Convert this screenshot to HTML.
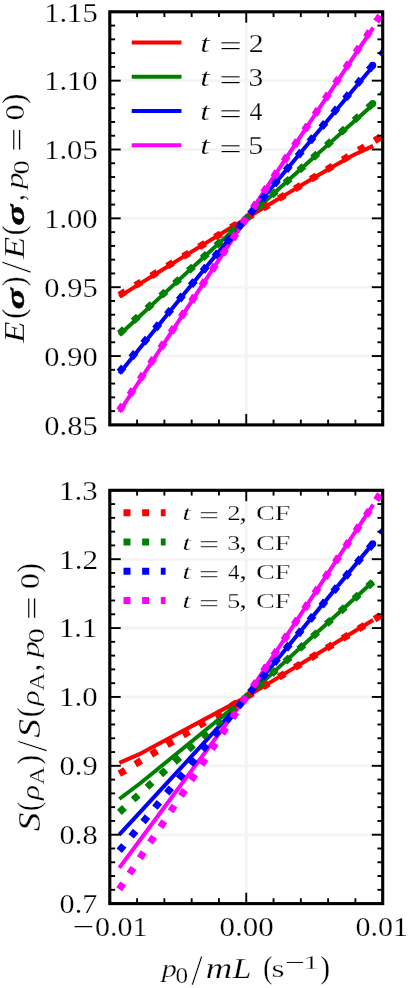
<!DOCTYPE html>
<html lang="en"><head><meta charset="utf-8"><title>Plot</title>
<style>html,body{margin:0;padding:0;background:#fff}svg{display:block}text{font-family:"Liberation Serif","DejaVu Serif",serif;fill:#000}</style></head><body>
<svg width="411" height="988" viewBox="0 0 411 988">
<rect width="411" height="988" fill="#fff"/>
<defs>
<clipPath id="c1"><rect x="109.8" y="11.8" width="272.9" height="413.1"/></clipPath>
<clipPath id="c2"><rect x="109.8" y="490.3" width="272.9" height="413.3"/></clipPath>
</defs>
<line x1="109.8" y1="424.9" x2="382.7" y2="424.9" stroke="#f4f4f4" stroke-width="3" />
<line x1="109.8" y1="356.05" x2="382.7" y2="356.05" stroke="#f4f4f4" stroke-width="3" />
<line x1="109.8" y1="287.2" x2="382.7" y2="287.2" stroke="#f4f4f4" stroke-width="3" />
<line x1="109.8" y1="218.35" x2="382.7" y2="218.35" stroke="#f4f4f4" stroke-width="3" />
<line x1="109.8" y1="149.5" x2="382.7" y2="149.5" stroke="#f4f4f4" stroke-width="3" />
<line x1="109.8" y1="80.65" x2="382.7" y2="80.65" stroke="#f4f4f4" stroke-width="3" />
<line x1="109.8" y1="11.8" x2="382.7" y2="11.8" stroke="#f4f4f4" stroke-width="3" />
<line x1="109.8" y1="11.8" x2="109.8" y2="424.9" stroke="#f4f4f4" stroke-width="3" />
<line x1="246.25" y1="11.8" x2="246.25" y2="424.9" stroke="#f4f4f4" stroke-width="3" />
<line x1="382.7" y1="11.8" x2="382.7" y2="424.9" stroke="#f4f4f4" stroke-width="3" />
<g clip-path="url(#c1)" fill="none">
<path d="M119.3 296.65 L140.46 283.4 L161.61 270.23 L182.77 257.14 L203.93 244.13 L225.09 231.2 L246.25 218.35 L267.41 205.58 L288.57 192.89 L309.73 180.27 L330.89 167.79 L352.04 155.69 L373.2 145.91" stroke="#ff0000" stroke-width="4"/>
<path d="M119.3 335.08 L140.46 315.43 L161.61 295.86 L182.77 276.36 L203.93 256.94 L225.09 237.61 L246.25 218.35 L267.41 199.17 L288.57 180.07 L309.73 161.06 L330.89 142.12 L352.04 123.26 L373.2 104.48" stroke="#008000" stroke-width="4"/>
<path d="M119.3 373.52 L140.46 347.46 L161.61 321.48 L182.77 295.58 L203.93 269.76 L225.09 244.01 L246.25 218.35 L267.41 192.77 L288.57 167.26 L309.73 141.84 L330.89 116.49 L352.04 91.23 L373.2 66.04" stroke="#0000ff" stroke-width="4"/>
<path d="M119.3 411.95 L140.46 379.49 L161.61 347.1 L182.77 314.79 L203.93 282.57 L225.09 250.42 L246.25 218.35 L267.41 186.36 L288.57 154.45 L309.73 122.62 L330.89 90.87 L352.04 59.2 L373.2 27.61" stroke="#ff00ff" stroke-width="4"/>
<path d="M119.3 295.22 L388.16 132.43" stroke="#ff0000" stroke-width="7" stroke-dasharray="7 11.65"/>
<path d="M119.3 333.65 L388.16 89.46" stroke="#008000" stroke-width="7" stroke-dasharray="7 11.65"/>
<path d="M119.3 372.09 L388.16 46.5" stroke="#0000ff" stroke-width="7" stroke-dasharray="7 11.65"/>
<path d="M119.3 410.52 L388.16 3.54" stroke="#ff00ff" stroke-width="7" stroke-dasharray="7 11.65"/>
<circle cx="372.7" cy="103.5" r="3.5" fill="#008000"/>
<circle cx="372.7" cy="65.22" r="3.5" fill="#0000ff"/>
</g>
<line x1="109.8" y1="424.9" x2="120.7" y2="424.9" stroke="#000" stroke-width="1.9" />
<line x1="382.7" y1="424.9" x2="371.8" y2="424.9" stroke="#000" stroke-width="1.9" />
<line x1="109.8" y1="411.13" x2="115.1" y2="411.13" stroke="#000" stroke-width="1.9" />
<line x1="382.7" y1="411.13" x2="377.4" y2="411.13" stroke="#000" stroke-width="1.9" />
<line x1="109.8" y1="397.36" x2="115.1" y2="397.36" stroke="#000" stroke-width="1.9" />
<line x1="382.7" y1="397.36" x2="377.4" y2="397.36" stroke="#000" stroke-width="1.9" />
<line x1="109.8" y1="383.59" x2="115.1" y2="383.59" stroke="#000" stroke-width="1.9" />
<line x1="382.7" y1="383.59" x2="377.4" y2="383.59" stroke="#000" stroke-width="1.9" />
<line x1="109.8" y1="369.82" x2="115.1" y2="369.82" stroke="#000" stroke-width="1.9" />
<line x1="382.7" y1="369.82" x2="377.4" y2="369.82" stroke="#000" stroke-width="1.9" />
<line x1="109.8" y1="356.05" x2="120.7" y2="356.05" stroke="#000" stroke-width="1.9" />
<line x1="382.7" y1="356.05" x2="371.8" y2="356.05" stroke="#000" stroke-width="1.9" />
<line x1="109.8" y1="342.28" x2="115.1" y2="342.28" stroke="#000" stroke-width="1.9" />
<line x1="382.7" y1="342.28" x2="377.4" y2="342.28" stroke="#000" stroke-width="1.9" />
<line x1="109.8" y1="328.51" x2="115.1" y2="328.51" stroke="#000" stroke-width="1.9" />
<line x1="382.7" y1="328.51" x2="377.4" y2="328.51" stroke="#000" stroke-width="1.9" />
<line x1="109.8" y1="314.74" x2="115.1" y2="314.74" stroke="#000" stroke-width="1.9" />
<line x1="382.7" y1="314.74" x2="377.4" y2="314.74" stroke="#000" stroke-width="1.9" />
<line x1="109.8" y1="300.97" x2="115.1" y2="300.97" stroke="#000" stroke-width="1.9" />
<line x1="382.7" y1="300.97" x2="377.4" y2="300.97" stroke="#000" stroke-width="1.9" />
<line x1="109.8" y1="287.2" x2="120.7" y2="287.2" stroke="#000" stroke-width="1.9" />
<line x1="382.7" y1="287.2" x2="371.8" y2="287.2" stroke="#000" stroke-width="1.9" />
<line x1="109.8" y1="273.43" x2="115.1" y2="273.43" stroke="#000" stroke-width="1.9" />
<line x1="382.7" y1="273.43" x2="377.4" y2="273.43" stroke="#000" stroke-width="1.9" />
<line x1="109.8" y1="259.66" x2="115.1" y2="259.66" stroke="#000" stroke-width="1.9" />
<line x1="382.7" y1="259.66" x2="377.4" y2="259.66" stroke="#000" stroke-width="1.9" />
<line x1="109.8" y1="245.89" x2="115.1" y2="245.89" stroke="#000" stroke-width="1.9" />
<line x1="382.7" y1="245.89" x2="377.4" y2="245.89" stroke="#000" stroke-width="1.9" />
<line x1="109.8" y1="232.12" x2="115.1" y2="232.12" stroke="#000" stroke-width="1.9" />
<line x1="382.7" y1="232.12" x2="377.4" y2="232.12" stroke="#000" stroke-width="1.9" />
<line x1="109.8" y1="218.35" x2="120.7" y2="218.35" stroke="#000" stroke-width="1.9" />
<line x1="382.7" y1="218.35" x2="371.8" y2="218.35" stroke="#000" stroke-width="1.9" />
<line x1="109.8" y1="204.58" x2="115.1" y2="204.58" stroke="#000" stroke-width="1.9" />
<line x1="382.7" y1="204.58" x2="377.4" y2="204.58" stroke="#000" stroke-width="1.9" />
<line x1="109.8" y1="190.81" x2="115.1" y2="190.81" stroke="#000" stroke-width="1.9" />
<line x1="382.7" y1="190.81" x2="377.4" y2="190.81" stroke="#000" stroke-width="1.9" />
<line x1="109.8" y1="177.04" x2="115.1" y2="177.04" stroke="#000" stroke-width="1.9" />
<line x1="382.7" y1="177.04" x2="377.4" y2="177.04" stroke="#000" stroke-width="1.9" />
<line x1="109.8" y1="163.27" x2="115.1" y2="163.27" stroke="#000" stroke-width="1.9" />
<line x1="382.7" y1="163.27" x2="377.4" y2="163.27" stroke="#000" stroke-width="1.9" />
<line x1="109.8" y1="149.5" x2="120.7" y2="149.5" stroke="#000" stroke-width="1.9" />
<line x1="382.7" y1="149.5" x2="371.8" y2="149.5" stroke="#000" stroke-width="1.9" />
<line x1="109.8" y1="135.73" x2="115.1" y2="135.73" stroke="#000" stroke-width="1.9" />
<line x1="382.7" y1="135.73" x2="377.4" y2="135.73" stroke="#000" stroke-width="1.9" />
<line x1="109.8" y1="121.96" x2="115.1" y2="121.96" stroke="#000" stroke-width="1.9" />
<line x1="382.7" y1="121.96" x2="377.4" y2="121.96" stroke="#000" stroke-width="1.9" />
<line x1="109.8" y1="108.19" x2="115.1" y2="108.19" stroke="#000" stroke-width="1.9" />
<line x1="382.7" y1="108.19" x2="377.4" y2="108.19" stroke="#000" stroke-width="1.9" />
<line x1="109.8" y1="94.42" x2="115.1" y2="94.42" stroke="#000" stroke-width="1.9" />
<line x1="382.7" y1="94.42" x2="377.4" y2="94.42" stroke="#000" stroke-width="1.9" />
<line x1="109.8" y1="80.65" x2="120.7" y2="80.65" stroke="#000" stroke-width="1.9" />
<line x1="382.7" y1="80.65" x2="371.8" y2="80.65" stroke="#000" stroke-width="1.9" />
<line x1="109.8" y1="66.88" x2="115.1" y2="66.88" stroke="#000" stroke-width="1.9" />
<line x1="382.7" y1="66.88" x2="377.4" y2="66.88" stroke="#000" stroke-width="1.9" />
<line x1="109.8" y1="53.11" x2="115.1" y2="53.11" stroke="#000" stroke-width="1.9" />
<line x1="382.7" y1="53.11" x2="377.4" y2="53.11" stroke="#000" stroke-width="1.9" />
<line x1="109.8" y1="39.34" x2="115.1" y2="39.34" stroke="#000" stroke-width="1.9" />
<line x1="382.7" y1="39.34" x2="377.4" y2="39.34" stroke="#000" stroke-width="1.9" />
<line x1="109.8" y1="25.57" x2="115.1" y2="25.57" stroke="#000" stroke-width="1.9" />
<line x1="382.7" y1="25.57" x2="377.4" y2="25.57" stroke="#000" stroke-width="1.9" />
<line x1="109.8" y1="11.8" x2="120.7" y2="11.8" stroke="#000" stroke-width="1.9" />
<line x1="382.7" y1="11.8" x2="371.8" y2="11.8" stroke="#000" stroke-width="1.9" />
<line x1="109.8" y1="424.9" x2="109.8" y2="414" stroke="#000" stroke-width="1.9" />
<line x1="109.8" y1="11.8" x2="109.8" y2="22.7" stroke="#000" stroke-width="1.9" />
<line x1="137.09" y1="424.9" x2="137.09" y2="419.6" stroke="#000" stroke-width="1.9" />
<line x1="137.09" y1="11.8" x2="137.09" y2="17.1" stroke="#000" stroke-width="1.9" />
<line x1="164.38" y1="424.9" x2="164.38" y2="419.6" stroke="#000" stroke-width="1.9" />
<line x1="164.38" y1="11.8" x2="164.38" y2="17.1" stroke="#000" stroke-width="1.9" />
<line x1="191.67" y1="424.9" x2="191.67" y2="419.6" stroke="#000" stroke-width="1.9" />
<line x1="191.67" y1="11.8" x2="191.67" y2="17.1" stroke="#000" stroke-width="1.9" />
<line x1="218.96" y1="424.9" x2="218.96" y2="419.6" stroke="#000" stroke-width="1.9" />
<line x1="218.96" y1="11.8" x2="218.96" y2="17.1" stroke="#000" stroke-width="1.9" />
<line x1="246.25" y1="424.9" x2="246.25" y2="414" stroke="#000" stroke-width="1.9" />
<line x1="246.25" y1="11.8" x2="246.25" y2="22.7" stroke="#000" stroke-width="1.9" />
<line x1="273.54" y1="424.9" x2="273.54" y2="419.6" stroke="#000" stroke-width="1.9" />
<line x1="273.54" y1="11.8" x2="273.54" y2="17.1" stroke="#000" stroke-width="1.9" />
<line x1="300.83" y1="424.9" x2="300.83" y2="419.6" stroke="#000" stroke-width="1.9" />
<line x1="300.83" y1="11.8" x2="300.83" y2="17.1" stroke="#000" stroke-width="1.9" />
<line x1="328.12" y1="424.9" x2="328.12" y2="419.6" stroke="#000" stroke-width="1.9" />
<line x1="328.12" y1="11.8" x2="328.12" y2="17.1" stroke="#000" stroke-width="1.9" />
<line x1="355.41" y1="424.9" x2="355.41" y2="419.6" stroke="#000" stroke-width="1.9" />
<line x1="355.41" y1="11.8" x2="355.41" y2="17.1" stroke="#000" stroke-width="1.9" />
<line x1="382.7" y1="424.9" x2="382.7" y2="414" stroke="#000" stroke-width="1.9" />
<line x1="382.7" y1="11.8" x2="382.7" y2="22.7" stroke="#000" stroke-width="1.9" />
<rect x="109.8" y="11.8" width="272.9" height="413.1" fill="none" stroke="#000" stroke-width="3.1"/>
<text x="44.38" y="434.7" font-size="28.1" textLength="53.33" lengthAdjust="spacingAndGlyphs" stroke="#fff" stroke-width="0.25">0.85</text>
<text x="44.38" y="365.85" font-size="28.1" textLength="53.27" lengthAdjust="spacingAndGlyphs" stroke="#fff" stroke-width="0.25">0.90</text>
<text x="44.38" y="297" font-size="28.1" textLength="53.33" lengthAdjust="spacingAndGlyphs" stroke="#fff" stroke-width="0.25">0.95</text>
<text x="44.17" y="228.15" font-size="28.1" textLength="53.49" lengthAdjust="spacingAndGlyphs" stroke="#fff" stroke-width="0.25">1.00</text>
<text x="44.17" y="159.3" font-size="28.1" textLength="53.55" lengthAdjust="spacingAndGlyphs" stroke="#fff" stroke-width="0.25">1.05</text>
<text x="44.17" y="90.45" font-size="28.1" textLength="53.49" lengthAdjust="spacingAndGlyphs" stroke="#fff" stroke-width="0.25">1.10</text>
<text x="44.17" y="21.6" font-size="28.1" textLength="53.55" lengthAdjust="spacingAndGlyphs" stroke="#fff" stroke-width="0.25">1.15</text>
<line x1="131.7" y1="42.6" x2="181.5" y2="42.6" stroke="#ff0000" stroke-width="4" />
<text><tspan x="200.22" y="51.5" font-size="25.4" textLength="9.36" lengthAdjust="spacingAndGlyphs" style="font-style:italic" stroke="#fff" stroke-width="0.25">t</tspan> <tspan x="219.18" y="54.9" font-size="27.2" textLength="22.6" lengthAdjust="spacingAndGlyphs" stroke="#fff" stroke-width="0.25">=</tspan> <tspan x="248.67" y="51.5" font-size="25.4" textLength="15" lengthAdjust="spacingAndGlyphs" stroke="#fff" stroke-width="0.25">2</tspan></text>


<line x1="131.7" y1="76.83" x2="181.5" y2="76.83" stroke="#008000" stroke-width="4" />
<text><tspan x="200.22" y="85.73" font-size="25.4" textLength="9.36" lengthAdjust="spacingAndGlyphs" style="font-style:italic" stroke="#fff" stroke-width="0.25">t</tspan> <tspan x="219.18" y="89.13" font-size="27.2" textLength="22.6" lengthAdjust="spacingAndGlyphs" stroke="#fff" stroke-width="0.25">=</tspan> <tspan x="248.53" y="85.73" font-size="25.4" textLength="14.74" lengthAdjust="spacingAndGlyphs" stroke="#fff" stroke-width="0.25">3</tspan></text>


<line x1="131.7" y1="111.06" x2="181.5" y2="111.06" stroke="#0000ff" stroke-width="4" />
<text><tspan x="200.22" y="119.96" font-size="25.4" textLength="9.36" lengthAdjust="spacingAndGlyphs" style="font-style:italic" stroke="#fff" stroke-width="0.25">t</tspan> <tspan x="219.18" y="123.36" font-size="27.2" textLength="22.6" lengthAdjust="spacingAndGlyphs" stroke="#fff" stroke-width="0.25">=</tspan> <tspan x="249.48" y="119.96" font-size="25.4" textLength="12.94" lengthAdjust="spacingAndGlyphs" stroke="#fff" stroke-width="0.25">4</tspan></text>


<line x1="131.7" y1="145.29" x2="181.5" y2="145.29" stroke="#ff00ff" stroke-width="4" />
<text><tspan x="200.22" y="154.19" font-size="25.4" textLength="9.36" lengthAdjust="spacingAndGlyphs" style="font-style:italic" stroke="#fff" stroke-width="0.25">t</tspan> <tspan x="219.18" y="157.59" font-size="27.2" textLength="22.6" lengthAdjust="spacingAndGlyphs" stroke="#fff" stroke-width="0.25">=</tspan> <tspan x="248.21" y="154.19" font-size="25.4" textLength="15.06" lengthAdjust="spacingAndGlyphs" stroke="#fff" stroke-width="0.25">5</tspan></text>


<g transform="translate(23.8 342.8) rotate(-90)">
<text><tspan x="-0.24" y="0" font-size="28.6" textLength="21.66" lengthAdjust="spacingAndGlyphs" style="font-style:italic" stroke="#fff" stroke-width="0.25">E</tspan><tspan x="24.06" y="0.09" font-size="32" textLength="9.92" lengthAdjust="spacingAndGlyphs" stroke="#fff" stroke-width="0.25">(</tspan><tspan x="33.59" y="0.38" font-size="25" textLength="20.77" lengthAdjust="spacingAndGlyphs" style="font-style:italic;font-weight:bold" stroke="#000" stroke-width="0.5">σ</tspan><tspan x="56.59" y="0.26" font-size="32.34" textLength="9.72" lengthAdjust="spacingAndGlyphs" stroke="#fff" stroke-width="0.25">)</tspan><tspan x="69.59" y="7.57" font-size="43.97" textLength="12.16" lengthAdjust="spacingAndGlyphs" stroke="#fff" stroke-width="0.75">/</tspan><tspan x="83.75" y="0" font-size="28.6" textLength="22.39" lengthAdjust="spacingAndGlyphs" style="font-style:italic" stroke="#fff" stroke-width="0.25">E</tspan><tspan x="107.5" y="0.09" font-size="32" textLength="9.66" lengthAdjust="spacingAndGlyphs" stroke="#fff" stroke-width="0.25">(</tspan><tspan x="117.29" y="0.38" font-size="25" textLength="20.77" lengthAdjust="spacingAndGlyphs" style="font-style:italic;font-weight:bold" stroke="#000" stroke-width="0.5">σ</tspan><tspan x="142.12" y="0.44" font-size="34.01" textLength="6.44" lengthAdjust="spacingAndGlyphs" stroke="#fff" stroke-width="0.25">,</tspan><tspan x="154.07" y="-0.4" font-size="25.87" textLength="16.31" lengthAdjust="spacingAndGlyphs" style="font-style:italic" stroke="#fff" stroke-width="0.25">p</tspan><tspan x="168.4" y="5.13" font-size="22.06" textLength="14.34" lengthAdjust="spacingAndGlyphs" stroke="#fff" stroke-width="0.25">0</tspan><tspan x="190.93" y="2.7" font-size="30.4" textLength="24.41" lengthAdjust="spacingAndGlyphs" stroke="#fff" stroke-width="0.25">=</tspan><tspan x="222.21" y="0" font-size="28.1" textLength="16.2" lengthAdjust="spacingAndGlyphs" stroke="#fff" stroke-width="0.25">0</tspan><tspan x="238.71" y="0.26" font-size="32.34" textLength="10.39" lengthAdjust="spacingAndGlyphs" stroke="#fff" stroke-width="0.25">)</tspan></text>













</g>
<line x1="109.8" y1="903.6" x2="382.7" y2="903.6" stroke="#f4f4f4" stroke-width="3" />
<line x1="109.8" y1="834.72" x2="382.7" y2="834.72" stroke="#f4f4f4" stroke-width="3" />
<line x1="109.8" y1="765.83" x2="382.7" y2="765.83" stroke="#f4f4f4" stroke-width="3" />
<line x1="109.8" y1="696.95" x2="382.7" y2="696.95" stroke="#f4f4f4" stroke-width="3" />
<line x1="109.8" y1="628.07" x2="382.7" y2="628.07" stroke="#f4f4f4" stroke-width="3" />
<line x1="109.8" y1="559.18" x2="382.7" y2="559.18" stroke="#f4f4f4" stroke-width="3" />
<line x1="109.8" y1="490.3" x2="382.7" y2="490.3" stroke="#f4f4f4" stroke-width="3" />
<line x1="109.8" y1="490.3" x2="109.8" y2="903.6" stroke="#f4f4f4" stroke-width="3" />
<line x1="246.25" y1="490.3" x2="246.25" y2="903.6" stroke="#f4f4f4" stroke-width="3" />
<line x1="382.7" y1="490.3" x2="382.7" y2="903.6" stroke="#f4f4f4" stroke-width="3" />
<g clip-path="url(#c2)" fill="none">
<path d="M119.3 762.9 L140.6 753.6 L234.25 703.38 L246.25 696.95 L373.2 620.04" stroke="#ff0000" stroke-width="4" stroke-linejoin="round"/>
<path d="M119.3 799 L140.6 783 L234.25 706.72 L246.25 696.95 L373.2 581.59" stroke="#008000" stroke-width="4" stroke-linejoin="round"/>
<path d="M119.3 834.7 L140.6 811.6 L234.25 709.97 L246.25 696.95 L373.2 543.14" stroke="#0000ff" stroke-width="4" stroke-linejoin="round"/>
<path d="M119.3 867.9 L140.6 839.2 L234.25 713.11 L246.25 696.95 L373.2 504.68" stroke="#ff00ff" stroke-width="4" stroke-linejoin="round"/>
<path d="M119.3 773.86 L388.16 610.98" stroke="#ff0000" stroke-width="7" stroke-dasharray="7 11.65"/>
<path d="M119.3 812.31 L388.16 568" stroke="#008000" stroke-width="7" stroke-dasharray="7 11.65"/>
<path d="M119.3 850.76 L388.16 525.02" stroke="#0000ff" stroke-width="7" stroke-dasharray="7 11.65"/>
<path d="M119.3 889.22 L388.16 482.03" stroke="#ff00ff" stroke-width="7" stroke-dasharray="7 11.65"/>
<circle cx="372.7" cy="543.75" r="3.5" fill="#0000ff"/>
</g>
<line x1="109.8" y1="903.6" x2="120.7" y2="903.6" stroke="#000" stroke-width="1.9" />
<line x1="382.7" y1="903.6" x2="371.8" y2="903.6" stroke="#000" stroke-width="1.9" />
<line x1="109.8" y1="889.82" x2="115.1" y2="889.82" stroke="#000" stroke-width="1.9" />
<line x1="382.7" y1="889.82" x2="377.4" y2="889.82" stroke="#000" stroke-width="1.9" />
<line x1="109.8" y1="876.05" x2="115.1" y2="876.05" stroke="#000" stroke-width="1.9" />
<line x1="382.7" y1="876.05" x2="377.4" y2="876.05" stroke="#000" stroke-width="1.9" />
<line x1="109.8" y1="862.27" x2="115.1" y2="862.27" stroke="#000" stroke-width="1.9" />
<line x1="382.7" y1="862.27" x2="377.4" y2="862.27" stroke="#000" stroke-width="1.9" />
<line x1="109.8" y1="848.49" x2="115.1" y2="848.49" stroke="#000" stroke-width="1.9" />
<line x1="382.7" y1="848.49" x2="377.4" y2="848.49" stroke="#000" stroke-width="1.9" />
<line x1="109.8" y1="834.72" x2="120.7" y2="834.72" stroke="#000" stroke-width="1.9" />
<line x1="382.7" y1="834.72" x2="371.8" y2="834.72" stroke="#000" stroke-width="1.9" />
<line x1="109.8" y1="820.94" x2="115.1" y2="820.94" stroke="#000" stroke-width="1.9" />
<line x1="382.7" y1="820.94" x2="377.4" y2="820.94" stroke="#000" stroke-width="1.9" />
<line x1="109.8" y1="807.16" x2="115.1" y2="807.16" stroke="#000" stroke-width="1.9" />
<line x1="382.7" y1="807.16" x2="377.4" y2="807.16" stroke="#000" stroke-width="1.9" />
<line x1="109.8" y1="793.39" x2="115.1" y2="793.39" stroke="#000" stroke-width="1.9" />
<line x1="382.7" y1="793.39" x2="377.4" y2="793.39" stroke="#000" stroke-width="1.9" />
<line x1="109.8" y1="779.61" x2="115.1" y2="779.61" stroke="#000" stroke-width="1.9" />
<line x1="382.7" y1="779.61" x2="377.4" y2="779.61" stroke="#000" stroke-width="1.9" />
<line x1="109.8" y1="765.83" x2="120.7" y2="765.83" stroke="#000" stroke-width="1.9" />
<line x1="382.7" y1="765.83" x2="371.8" y2="765.83" stroke="#000" stroke-width="1.9" />
<line x1="109.8" y1="752.06" x2="115.1" y2="752.06" stroke="#000" stroke-width="1.9" />
<line x1="382.7" y1="752.06" x2="377.4" y2="752.06" stroke="#000" stroke-width="1.9" />
<line x1="109.8" y1="738.28" x2="115.1" y2="738.28" stroke="#000" stroke-width="1.9" />
<line x1="382.7" y1="738.28" x2="377.4" y2="738.28" stroke="#000" stroke-width="1.9" />
<line x1="109.8" y1="724.5" x2="115.1" y2="724.5" stroke="#000" stroke-width="1.9" />
<line x1="382.7" y1="724.5" x2="377.4" y2="724.5" stroke="#000" stroke-width="1.9" />
<line x1="109.8" y1="710.73" x2="115.1" y2="710.73" stroke="#000" stroke-width="1.9" />
<line x1="382.7" y1="710.73" x2="377.4" y2="710.73" stroke="#000" stroke-width="1.9" />
<line x1="109.8" y1="696.95" x2="120.7" y2="696.95" stroke="#000" stroke-width="1.9" />
<line x1="382.7" y1="696.95" x2="371.8" y2="696.95" stroke="#000" stroke-width="1.9" />
<line x1="109.8" y1="683.17" x2="115.1" y2="683.17" stroke="#000" stroke-width="1.9" />
<line x1="382.7" y1="683.17" x2="377.4" y2="683.17" stroke="#000" stroke-width="1.9" />
<line x1="109.8" y1="669.4" x2="115.1" y2="669.4" stroke="#000" stroke-width="1.9" />
<line x1="382.7" y1="669.4" x2="377.4" y2="669.4" stroke="#000" stroke-width="1.9" />
<line x1="109.8" y1="655.62" x2="115.1" y2="655.62" stroke="#000" stroke-width="1.9" />
<line x1="382.7" y1="655.62" x2="377.4" y2="655.62" stroke="#000" stroke-width="1.9" />
<line x1="109.8" y1="641.84" x2="115.1" y2="641.84" stroke="#000" stroke-width="1.9" />
<line x1="382.7" y1="641.84" x2="377.4" y2="641.84" stroke="#000" stroke-width="1.9" />
<line x1="109.8" y1="628.07" x2="120.7" y2="628.07" stroke="#000" stroke-width="1.9" />
<line x1="382.7" y1="628.07" x2="371.8" y2="628.07" stroke="#000" stroke-width="1.9" />
<line x1="109.8" y1="614.29" x2="115.1" y2="614.29" stroke="#000" stroke-width="1.9" />
<line x1="382.7" y1="614.29" x2="377.4" y2="614.29" stroke="#000" stroke-width="1.9" />
<line x1="109.8" y1="600.51" x2="115.1" y2="600.51" stroke="#000" stroke-width="1.9" />
<line x1="382.7" y1="600.51" x2="377.4" y2="600.51" stroke="#000" stroke-width="1.9" />
<line x1="109.8" y1="586.74" x2="115.1" y2="586.74" stroke="#000" stroke-width="1.9" />
<line x1="382.7" y1="586.74" x2="377.4" y2="586.74" stroke="#000" stroke-width="1.9" />
<line x1="109.8" y1="572.96" x2="115.1" y2="572.96" stroke="#000" stroke-width="1.9" />
<line x1="382.7" y1="572.96" x2="377.4" y2="572.96" stroke="#000" stroke-width="1.9" />
<line x1="109.8" y1="559.18" x2="120.7" y2="559.18" stroke="#000" stroke-width="1.9" />
<line x1="382.7" y1="559.18" x2="371.8" y2="559.18" stroke="#000" stroke-width="1.9" />
<line x1="109.8" y1="545.41" x2="115.1" y2="545.41" stroke="#000" stroke-width="1.9" />
<line x1="382.7" y1="545.41" x2="377.4" y2="545.41" stroke="#000" stroke-width="1.9" />
<line x1="109.8" y1="531.63" x2="115.1" y2="531.63" stroke="#000" stroke-width="1.9" />
<line x1="382.7" y1="531.63" x2="377.4" y2="531.63" stroke="#000" stroke-width="1.9" />
<line x1="109.8" y1="517.85" x2="115.1" y2="517.85" stroke="#000" stroke-width="1.9" />
<line x1="382.7" y1="517.85" x2="377.4" y2="517.85" stroke="#000" stroke-width="1.9" />
<line x1="109.8" y1="504.08" x2="115.1" y2="504.08" stroke="#000" stroke-width="1.9" />
<line x1="382.7" y1="504.08" x2="377.4" y2="504.08" stroke="#000" stroke-width="1.9" />
<line x1="109.8" y1="490.3" x2="120.7" y2="490.3" stroke="#000" stroke-width="1.9" />
<line x1="382.7" y1="490.3" x2="371.8" y2="490.3" stroke="#000" stroke-width="1.9" />
<line x1="109.8" y1="903.6" x2="109.8" y2="892.7" stroke="#000" stroke-width="1.9" />
<line x1="109.8" y1="490.3" x2="109.8" y2="501.2" stroke="#000" stroke-width="1.9" />
<line x1="137.09" y1="903.6" x2="137.09" y2="898.3" stroke="#000" stroke-width="1.9" />
<line x1="137.09" y1="490.3" x2="137.09" y2="495.6" stroke="#000" stroke-width="1.9" />
<line x1="164.38" y1="903.6" x2="164.38" y2="898.3" stroke="#000" stroke-width="1.9" />
<line x1="164.38" y1="490.3" x2="164.38" y2="495.6" stroke="#000" stroke-width="1.9" />
<line x1="191.67" y1="903.6" x2="191.67" y2="898.3" stroke="#000" stroke-width="1.9" />
<line x1="191.67" y1="490.3" x2="191.67" y2="495.6" stroke="#000" stroke-width="1.9" />
<line x1="218.96" y1="903.6" x2="218.96" y2="898.3" stroke="#000" stroke-width="1.9" />
<line x1="218.96" y1="490.3" x2="218.96" y2="495.6" stroke="#000" stroke-width="1.9" />
<line x1="246.25" y1="903.6" x2="246.25" y2="892.7" stroke="#000" stroke-width="1.9" />
<line x1="246.25" y1="490.3" x2="246.25" y2="501.2" stroke="#000" stroke-width="1.9" />
<line x1="273.54" y1="903.6" x2="273.54" y2="898.3" stroke="#000" stroke-width="1.9" />
<line x1="273.54" y1="490.3" x2="273.54" y2="495.6" stroke="#000" stroke-width="1.9" />
<line x1="300.83" y1="903.6" x2="300.83" y2="898.3" stroke="#000" stroke-width="1.9" />
<line x1="300.83" y1="490.3" x2="300.83" y2="495.6" stroke="#000" stroke-width="1.9" />
<line x1="328.12" y1="903.6" x2="328.12" y2="898.3" stroke="#000" stroke-width="1.9" />
<line x1="328.12" y1="490.3" x2="328.12" y2="495.6" stroke="#000" stroke-width="1.9" />
<line x1="355.41" y1="903.6" x2="355.41" y2="898.3" stroke="#000" stroke-width="1.9" />
<line x1="355.41" y1="490.3" x2="355.41" y2="495.6" stroke="#000" stroke-width="1.9" />
<line x1="382.7" y1="903.6" x2="382.7" y2="892.7" stroke="#000" stroke-width="1.9" />
<line x1="382.7" y1="490.3" x2="382.7" y2="501.2" stroke="#000" stroke-width="1.9" />
<rect x="109.8" y="490.3" width="272.9" height="413.3" fill="none" stroke="#000" stroke-width="3.1"/>
<text x="59.6" y="913" font-size="28.1" textLength="37.66" lengthAdjust="spacingAndGlyphs" stroke="#fff" stroke-width="0.25">0.7</text>
<text x="59.59" y="844.12" font-size="28.1" textLength="38.05" lengthAdjust="spacingAndGlyphs" stroke="#fff" stroke-width="0.25">0.8</text>
<text x="59.58" y="775.23" font-size="28.1" textLength="38.14" lengthAdjust="spacingAndGlyphs" stroke="#fff" stroke-width="0.25">0.9</text>
<text x="59.04" y="706.35" font-size="28.1" textLength="38.58" lengthAdjust="spacingAndGlyphs" stroke="#fff" stroke-width="0.25">1.0</text>
<text x="59.07" y="637.47" font-size="28.1" textLength="38.26" lengthAdjust="spacingAndGlyphs" stroke="#fff" stroke-width="0.25">1.1</text>
<text x="59" y="568.58" font-size="28.1" textLength="39.12" lengthAdjust="spacingAndGlyphs" stroke="#fff" stroke-width="0.25">1.2</text>
<text x="59.04" y="499.7" font-size="28.1" textLength="38.67" lengthAdjust="spacingAndGlyphs" stroke="#fff" stroke-width="0.25">1.3</text>
<line x1="123.5" y1="512.75" x2="165.6" y2="512.75" stroke="#ff0000" stroke-width="7" stroke-dasharray="7 11.65"/>
<text><tspan x="182.36" y="520.3" font-size="20.2" textLength="8.9" lengthAdjust="spacingAndGlyphs" style="font-style:italic" stroke="#fff" stroke-width="0.25">t</tspan> <tspan x="199.09" y="523.1" font-size="23.2" textLength="20.08" lengthAdjust="spacingAndGlyphs" stroke="#fff" stroke-width="0.25">=</tspan> <tspan x="227.27" y="520.3" font-size="20.2" textLength="13.41" lengthAdjust="spacingAndGlyphs" stroke="#fff" stroke-width="0.25">2</tspan><tspan x="239.35" y="520.58" font-size="25.41" textLength="7.74" lengthAdjust="spacingAndGlyphs" stroke="#fff" stroke-width="0.25">,</tspan> <tspan x="256" y="520.3" font-size="20.2" textLength="34.48" lengthAdjust="spacingAndGlyphs" stroke="#fff" stroke-width="0.25">CF</tspan></text>




<line x1="123.5" y1="542" x2="165.6" y2="542" stroke="#008000" stroke-width="7" stroke-dasharray="7 11.65"/>
<text><tspan x="182.36" y="549.55" font-size="20.2" textLength="8.9" lengthAdjust="spacingAndGlyphs" style="font-style:italic" stroke="#fff" stroke-width="0.25">t</tspan> <tspan x="199.09" y="552.35" font-size="23.2" textLength="20.08" lengthAdjust="spacingAndGlyphs" stroke="#fff" stroke-width="0.25">=</tspan> <tspan x="227.23" y="549.55" font-size="20.2" textLength="13.09" lengthAdjust="spacingAndGlyphs" stroke="#fff" stroke-width="0.25">3</tspan><tspan x="239.35" y="549.83" font-size="25.41" textLength="7.74" lengthAdjust="spacingAndGlyphs" stroke="#fff" stroke-width="0.25">,</tspan> <tspan x="256" y="549.55" font-size="20.2" textLength="34.48" lengthAdjust="spacingAndGlyphs" stroke="#fff" stroke-width="0.25">CF</tspan></text>




<line x1="123.5" y1="571.25" x2="165.6" y2="571.25" stroke="#0000ff" stroke-width="7" stroke-dasharray="7 11.65"/>
<text><tspan x="182.36" y="578.8" font-size="20.2" textLength="8.9" lengthAdjust="spacingAndGlyphs" style="font-style:italic" stroke="#fff" stroke-width="0.25">t</tspan> <tspan x="199.09" y="581.6" font-size="23.2" textLength="20.08" lengthAdjust="spacingAndGlyphs" stroke="#fff" stroke-width="0.25">=</tspan> <tspan x="228.14" y="578.8" font-size="20.2" textLength="11.43" lengthAdjust="spacingAndGlyphs" stroke="#fff" stroke-width="0.25">4</tspan><tspan x="239.35" y="579.08" font-size="25.41" textLength="7.74" lengthAdjust="spacingAndGlyphs" stroke="#fff" stroke-width="0.25">,</tspan> <tspan x="256" y="578.8" font-size="20.2" textLength="34.48" lengthAdjust="spacingAndGlyphs" stroke="#fff" stroke-width="0.25">CF</tspan></text>




<line x1="123.5" y1="600.5" x2="165.6" y2="600.5" stroke="#ff00ff" stroke-width="7" stroke-dasharray="7 11.65"/>
<text><tspan x="182.36" y="608.05" font-size="20.2" textLength="8.9" lengthAdjust="spacingAndGlyphs" style="font-style:italic" stroke="#fff" stroke-width="0.25">t</tspan> <tspan x="199.09" y="610.85" font-size="23.2" textLength="20.08" lengthAdjust="spacingAndGlyphs" stroke="#fff" stroke-width="0.25">=</tspan> <tspan x="226.96" y="608.05" font-size="20.2" textLength="13.36" lengthAdjust="spacingAndGlyphs" stroke="#fff" stroke-width="0.25">5</tspan><tspan x="239.35" y="608.33" font-size="25.41" textLength="7.74" lengthAdjust="spacingAndGlyphs" stroke="#fff" stroke-width="0.25">,</tspan> <tspan x="256" y="608.05" font-size="20.2" textLength="34.48" lengthAdjust="spacingAndGlyphs" stroke="#fff" stroke-width="0.25">CF</tspan></text>




<g transform="translate(39.1 830.8) rotate(-90)">
<text><tspan x="-0.46" y="0.58" font-size="31.97" textLength="18.69" lengthAdjust="spacingAndGlyphs" style="font-style:italic" stroke="#fff" stroke-width="0.25">S</tspan><tspan x="19.75" y="0.09" font-size="32" textLength="9.26" lengthAdjust="spacingAndGlyphs" stroke="#fff" stroke-width="0.25">(</tspan><tspan x="30.77" y="-0.24" font-size="24.74" textLength="15.04" lengthAdjust="spacingAndGlyphs" style="font-style:italic" stroke="#fff" stroke-width="0.25">ρ</tspan><tspan x="46.13" y="4.4" font-size="21.08" textLength="18.16" lengthAdjust="spacingAndGlyphs" stroke="#fff" stroke-width="0.25">A</tspan><tspan x="66.42" y="0.26" font-size="32.34" textLength="9.46" lengthAdjust="spacingAndGlyphs" stroke="#fff" stroke-width="0.25">)</tspan><tspan x="79.01" y="7.57" font-size="43.97" textLength="11.43" lengthAdjust="spacingAndGlyphs" stroke="#fff" stroke-width="0.75">/</tspan><tspan x="93.14" y="0.58" font-size="31.97" textLength="18.69" lengthAdjust="spacingAndGlyphs" style="font-style:italic" stroke="#fff" stroke-width="0.25">S</tspan><tspan x="113.64" y="0.09" font-size="32" textLength="10.05" lengthAdjust="spacingAndGlyphs" stroke="#fff" stroke-width="0.25">(</tspan><tspan x="125.27" y="-0.24" font-size="24.74" textLength="15.15" lengthAdjust="spacingAndGlyphs" style="font-style:italic" stroke="#fff" stroke-width="0.25">ρ</tspan><tspan x="140.13" y="4.4" font-size="21.08" textLength="18.16" lengthAdjust="spacingAndGlyphs" stroke="#fff" stroke-width="0.25">A</tspan><tspan x="159.63" y="0.44" font-size="34.01" textLength="7.51" lengthAdjust="spacingAndGlyphs" stroke="#fff" stroke-width="0.25">,</tspan><tspan x="173.27" y="-0.4" font-size="25.87" textLength="16.31" lengthAdjust="spacingAndGlyphs" style="font-style:italic" stroke="#fff" stroke-width="0.25">p</tspan><tspan x="187.53" y="5.13" font-size="22.06" textLength="15.08" lengthAdjust="spacingAndGlyphs" stroke="#fff" stroke-width="0.25">0</tspan><tspan x="210.79" y="2.7" font-size="30.4" textLength="23.68" lengthAdjust="spacingAndGlyphs" stroke="#fff" stroke-width="0.25">=</tspan><tspan x="241.74" y="0" font-size="28.1" textLength="15.84" lengthAdjust="spacingAndGlyphs" stroke="#fff" stroke-width="0.25">0</tspan><tspan x="258" y="0.26" font-size="32.34" textLength="9.59" lengthAdjust="spacingAndGlyphs" stroke="#fff" stroke-width="0.25">)</tspan></text>















</g>
<text><tspan x="72.73" y="935.5" font-size="28.1" textLength="21.9" lengthAdjust="spacingAndGlyphs" stroke="#fff" stroke-width="0.25">−</tspan><tspan x="95.1" y="935.5" font-size="28.1" textLength="52.43" lengthAdjust="spacingAndGlyphs" stroke="#fff" stroke-width="0.25">0.01</tspan></text>

<text x="219.46" y="935.5" font-size="28.1" textLength="54.22" lengthAdjust="spacingAndGlyphs" stroke="#fff" stroke-width="0.25">0.00</text>
<text x="355.5" y="935.5" font-size="28.1" textLength="52.53" lengthAdjust="spacingAndGlyphs" stroke="#fff" stroke-width="0.25">0.01</text>
<g transform="translate(0 977.8)">
<text><tspan x="161.66" y="-0.4" font-size="25.87" textLength="15.14" lengthAdjust="spacingAndGlyphs" style="font-style:italic" stroke="#fff" stroke-width="0.25">p</tspan><tspan x="175.57" y="5.13" font-size="22.37" textLength="12.64" lengthAdjust="spacingAndGlyphs" stroke="#fff" stroke-width="0.25">0</tspan><tspan x="191.2" y="7.57" font-size="43.97" textLength="11.53" lengthAdjust="spacingAndGlyphs" stroke="#fff" stroke-width="0.75">/</tspan><tspan x="205.74" y="0" font-size="28.6" textLength="26.51" lengthAdjust="spacingAndGlyphs" style="font-style:italic" stroke="#fff" stroke-width="0.25">m</tspan><tspan x="232.77" y="0" font-size="28.6" textLength="18.69" lengthAdjust="spacingAndGlyphs" style="font-style:italic" stroke="#fff" stroke-width="0.25">L</tspan> <tspan x="263.17" y="0.09" font-size="32" textLength="9.13" lengthAdjust="spacingAndGlyphs" stroke="#fff" stroke-width="0.25">(</tspan><tspan x="271.57" y="-0.37" font-size="25.89" textLength="13.03" lengthAdjust="spacingAndGlyphs" stroke="#fff" stroke-width="0.3">s</tspan><tspan x="285.02" y="-8.56" font-size="20" textLength="19.95" lengthAdjust="spacingAndGlyphs" stroke="#fff" stroke-width="0.15">−</tspan><tspan x="303.14" y="-8.39" font-size="18.78" textLength="16.09" lengthAdjust="spacingAndGlyphs" stroke="#fff" stroke-width="0.3">1</tspan><tspan x="320.19" y="0.26" font-size="32.34" textLength="9.72" lengthAdjust="spacingAndGlyphs" stroke="#fff" stroke-width="0.25">)</tspan></text>









</g>
</svg></body></html>
